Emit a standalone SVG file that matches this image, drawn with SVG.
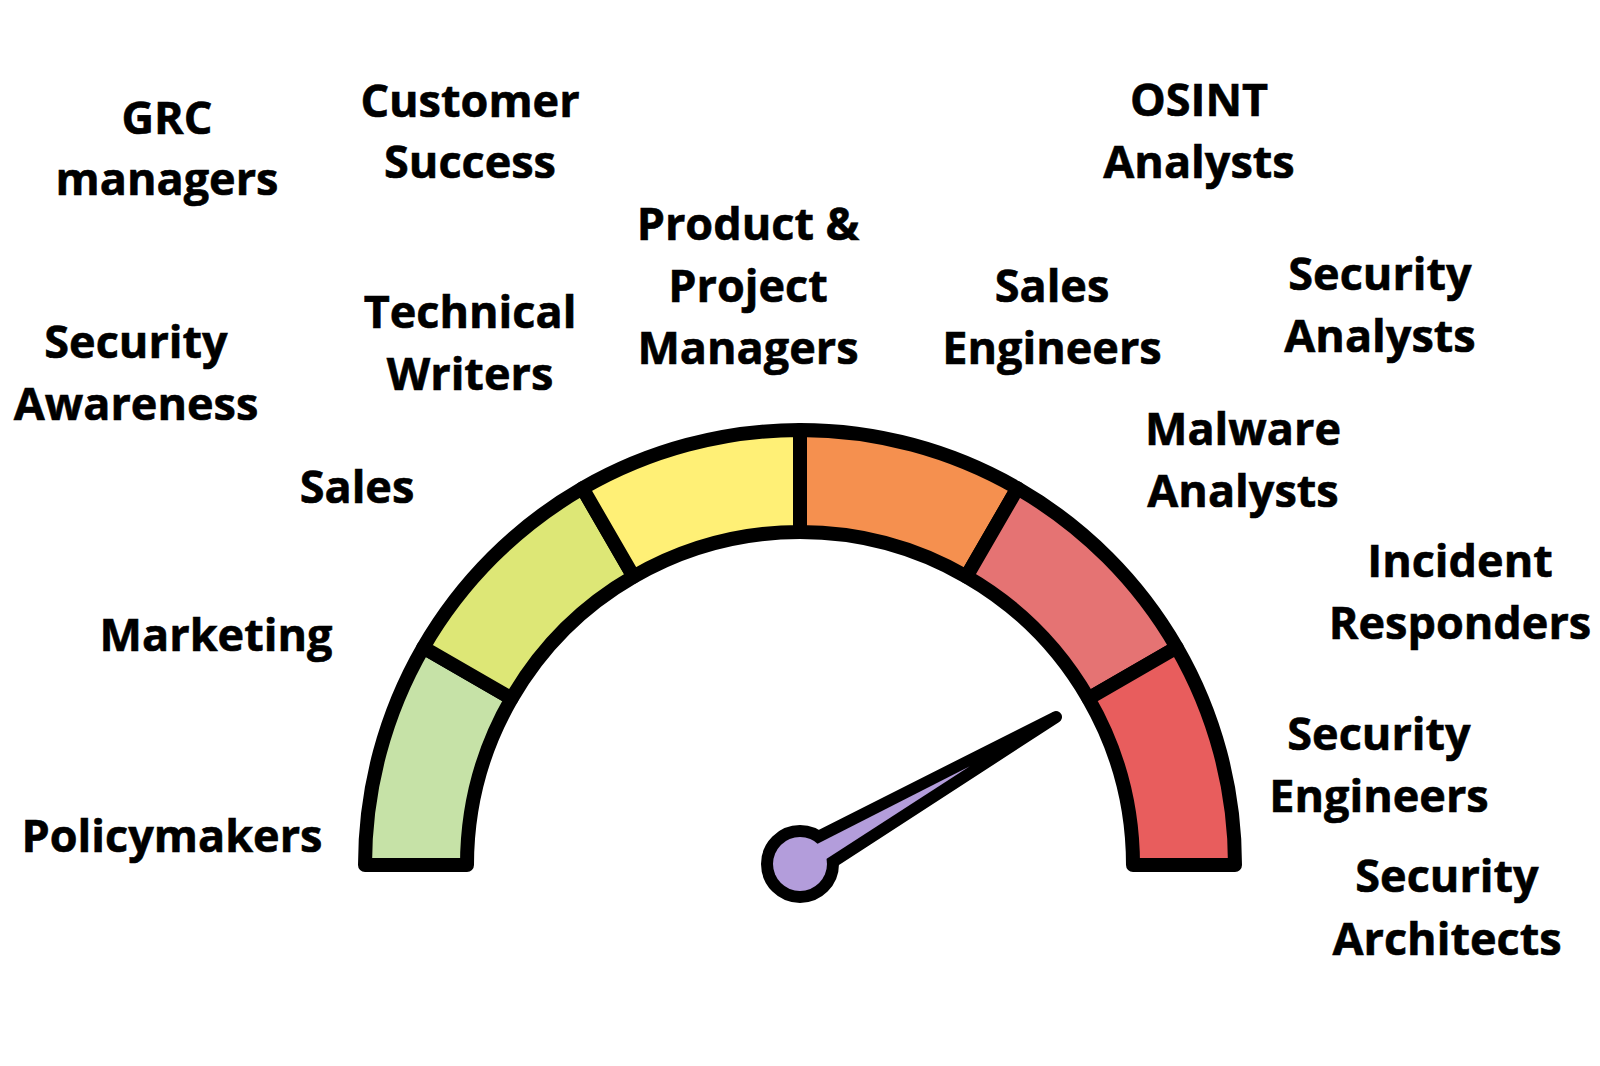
<svg xmlns="http://www.w3.org/2000/svg" width="1600" height="1066" viewBox="0 0 1600 1066">
<style>
.lbl{font-family:"Open Sans","Liberation Sans",sans-serif;font-weight:700;font-size:45px;fill:#000;text-anchor:middle;stroke:#000;stroke-width:0.6}
.seg{stroke:#000;stroke-width:14;stroke-linejoin:round}
</style>
<rect width="1600" height="1066" fill="#fff"/>
<g id="gauge">
<path class="seg" fill="#c6e2a7" d="M365 865 A435 435 0 0 1 423.3 647.5 L511.6 698.5 A333 333 0 0 0 467 865 Z"/>
<path class="seg" fill="#dde776" d="M423.3 647.5 A435 435 0 0 1 582.5 488.3 L633.5 576.6 A333 333 0 0 0 511.6 698.5 Z"/>
<path class="seg" fill="#fff076" d="M582.5 488.3 A435 435 0 0 1 800 430 L800 532 A333 333 0 0 0 633.5 576.6 Z"/>
<path class="seg" fill="#f5904f" d="M800 430 A435 435 0 0 1 1017.5 488.3 L966.5 576.6 A333 333 0 0 0 800 532 Z"/>
<path class="seg" fill="#e57373" d="M1017.5 488.3 A435 435 0 0 1 1176.7 647.5 L1088.4 698.5 A333 333 0 0 0 966.5 576.6 Z"/>
<path class="seg" fill="#e85d5d" d="M1176.7 647.5 A435 435 0 0 1 1235 865 L1133 865 A333 333 0 0 0 1088.4 698.5 Z"/>
</g>
<g id="needle">
<polygon points="1056,717 808,877.9 792,850.1" fill="#000" stroke="#000" stroke-width="12" stroke-linejoin="round"/>
<circle cx="800" cy="864" r="33" fill="#000" stroke="#000" stroke-width="12"/>
<polygon points="969.8,766.2 805,872.7 795,855.3" fill="#b39ddb"/>
<circle cx="800" cy="864" r="27" fill="#b39ddb"/>
</g>
<g id="labels">
<g id="grc"><text class="lbl" x="167" y="134">GRC</text><text class="lbl" x="167" y="195">managers</text></g>
<g id="customer-success"><text class="lbl" x="470" y="117">Customer</text><text class="lbl" x="470" y="178">Success</text></g>
<g id="security-awareness"><text class="lbl" x="136" y="358">Security</text><text class="lbl" x="136" y="420">Awareness</text></g>
<g id="technical-writers"><text class="lbl" x="470" y="328">Technical</text><text class="lbl" x="470" y="390">Writers</text></g>
<g id="sales"><text class="lbl" x="357" y="503">Sales</text></g>
<g id="marketing"><text class="lbl" x="216" y="651">Marketing</text></g>
<g id="policymakers"><text class="lbl" x="172" y="852">Policymakers</text></g>
<g id="product-project"><text class="lbl" x="748" y="240">Product &amp;</text><text class="lbl" x="748" y="302">Project</text><text class="lbl" x="748" y="364">Managers</text></g>
<g id="osint"><text class="lbl" x="1199" y="116">OSINT</text><text class="lbl" x="1199" y="178">Analysts</text></g>
<g id="sales-engineers"><text class="lbl" x="1052" y="302">Sales</text><text class="lbl" x="1052" y="364">Engineers</text></g>
<g id="security-analysts"><text class="lbl" x="1380" y="290">Security</text><text class="lbl" x="1380" y="352">Analysts</text></g>
<g id="malware-analysts"><text class="lbl" x="1243" y="445">Malware</text><text class="lbl" x="1243" y="507">Analysts</text></g>
<g id="incident-responders"><text class="lbl" x="1460" y="577">Incident</text><text class="lbl" x="1460" y="639">Responders</text></g>
<g id="security-engineers"><text class="lbl" x="1379" y="750">Security</text><text class="lbl" x="1379" y="812">Engineers</text></g>
<g id="security-architects"><text class="lbl" x="1447" y="892">Security</text><text class="lbl" x="1447" y="955">Architects</text></g>
</g>
</svg>
